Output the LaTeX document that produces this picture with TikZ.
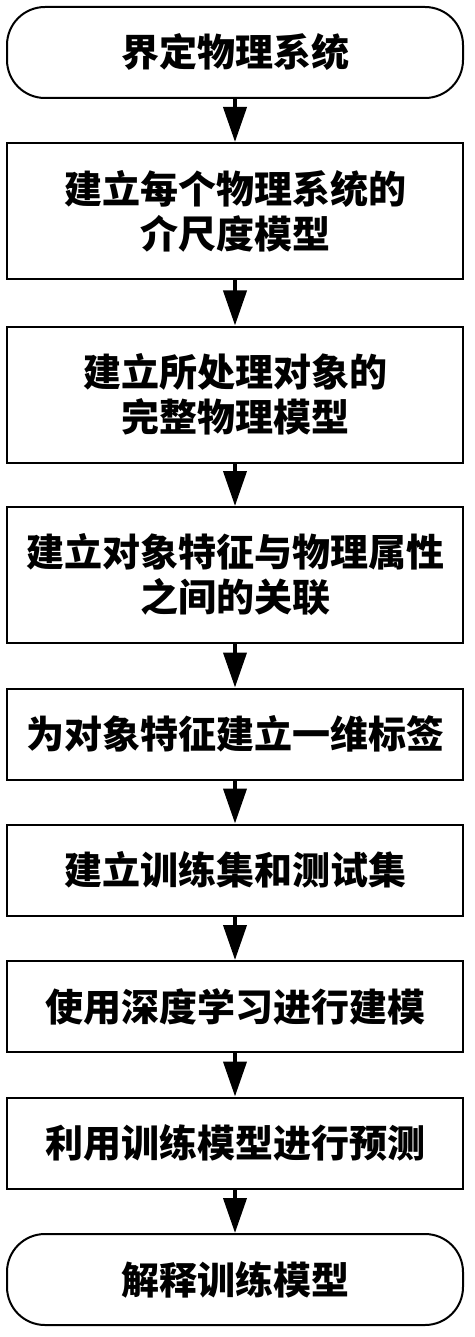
\documentclass[tikz,border=0pt]{standalone}
\usepackage{fontspec}
\newfontfamily\cjk{Noto Sans CJK SC}
\usetikzlibrary{arrows.meta}
\begin{document}
\begin{tikzpicture}[x=1pt,y=-1pt,
  box/.style={draw, line width=2pt, minimum width=456pt, inner sep=0pt,
    font=\cjk\bfseries\fontsize{38}{45}\selectfont, align=center},
  single/.style={box, minimum height=91pt},
  double/.style={box, minimum height=136pt},
  term/.style={single, rounded corners=38pt},
  flow/.style={line width=4pt, -{Triangle[length=35pt,width=23pt]}}]
\useasboundingbox (0,0) rectangle (474,1337);
\node[term]   (n1) at (235,52.5)  {界定物理系统};
\node[double] (n2) at (235,211)   {建立每个物理系统的\\介尺度模型};
\node[double] (n3) at (235,394.5) {建立所处理对象的\\完整物理模型};
\node[double] (n4) at (235,575)   {建立对象特征与物理属性\\之间的关联};
\node[single] (n5) at (235,734)   {为对象特征建立一维标签};
\node[single] (n6) at (235,870)   {建立训练集和测试集};
\node[single] (n7) at (235,1006.5){使用深度学习进行建模};
\node[single] (n8) at (235,1143)  {利用训练模型进行预测};
\node[term]   (n9) at (235,1279.5){解释训练模型};
\draw[flow] (n1) -- (n2);
\draw[flow] (n2) -- (n3);
\draw[flow] (n3) -- (n4);
\draw[flow] (n4) -- (n5);
\draw[flow] (n5) -- (n6);
\draw[flow] (n6) -- (n7);
\draw[flow] (n7) -- (n8);
\draw[flow] (n8) -- (n9);
\end{tikzpicture}
\end{document}
